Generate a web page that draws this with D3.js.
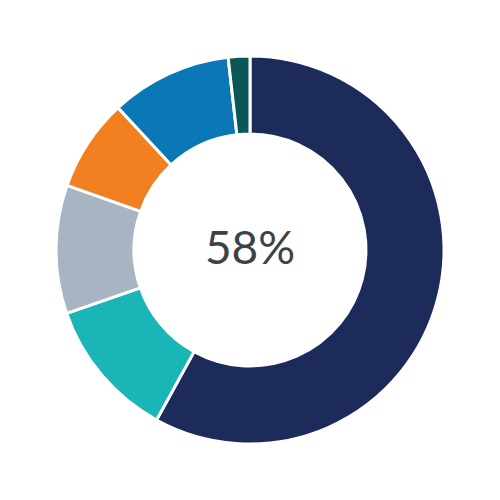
<!DOCTYPE html>
<html>
<head>
<meta charset="utf-8">
<script src="https://cdn.jsdelivr.net/npm/d3@7"></script>
<style>
  body { margin: 0; background: #fff; }
</style>
</head>
<body>
<div id="chart"></div>
<script>
const labels = ["A", "B", "C", "D", "E", "F"];
const values = [58, 11.7, 10.7, 7.7, 10.1, 1.8];
const colors = ["#1c2b5a", "#1ab5b6", "#a8b4c2", "#f27f20", "#0a77b7", "#0b5656"];
const centerLabel = "58%";

const width = 500, height = 500;
const outerR = 194, innerR = 116;

const svg = d3.select("#chart")
    .append("svg")
    .attr("width", width)
    .attr("height", height)
    .append("g")
    .attr("transform", `translate(${width / 2},${height / 2})`);

const color = d3.scaleOrdinal().domain(labels).range(colors);

const pie = d3.pie()
    .sort(null)
    .value(d => d.value);

const arc = d3.arc()
    .innerRadius(innerR)
    .outerRadius(outerR);

const data = labels.map((l, i) => ({ label: l, value: values[i] }));

svg.selectAll("path")
    .data(pie(data))
    .join("path")
    .attr("d", arc)
    .attr("fill", d => color(d.data.label))
    .attr("stroke", "#fff")
    .attr("stroke-width", 3);

// center label
svg.append("text")
    .attr("text-anchor", "middle")
    .attr("y", 14)
    .attr("font-family", "Lato, 'Open Sans', sans-serif")
    .attr("font-size", 46)
    .attr("fill", "#3d4148")
    .text(centerLabel);
</script>
</body>
</html>
